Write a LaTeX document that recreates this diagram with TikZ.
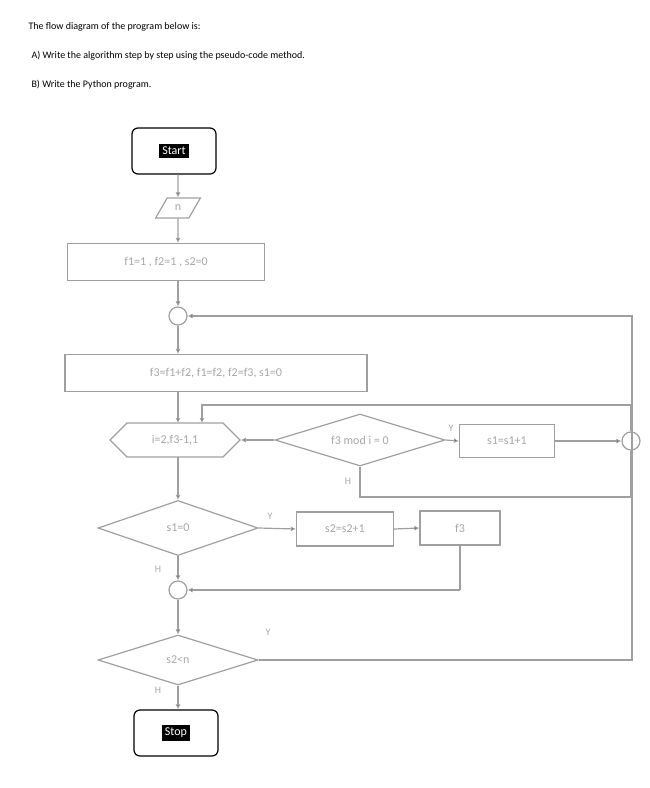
\documentclass[tikz,border=0pt]{standalone}
\usepackage{fontspec}
\setmainfont{Carlito}
\usetikzlibrary{shapes.geometric,shapes.symbols,arrows.meta}
\begin{document}
\begin{tikzpicture}[x=1pt,y=-1pt,
  line/.style={draw=gray!75,line width=1.2pt},
  arr/.style={line,-{Latex[length=5pt,width=5pt,fill=black]}},
  box/.style={line,rectangle,inner sep=0pt,text=gray!70,font=\large},
  term/.style={draw=black,line width=1.2pt,rounded corners=6pt,minimum width=84pt,minimum height=46pt,font=\large},
  dia/.style={line,diamond,aspect=3,inner sep=0pt,text=gray!70,font=\large},
  junc/.style={line,circle,minimum size=18pt,inner sep=0pt},
  lab/.style={text=gray!70,font=\normalsize}]
\useasboundingbox (0,0) rectangle (650,788);
\node[anchor=west,font=\normalsize] (t1) at (25,27) {The flow diagram of the program below is:};
\node[anchor=west,font=\normalsize] (t2) at (28,56) {A) Write the algorithm step by step using the pseudo-code method.};
\node[anchor=west,font=\normalsize] (t3) at (28,85) {B) Write the Python program.};
\node[term] (start) at (174,151) {\colorbox{black}{\textcolor{white}{Start}}};
\node[line,trapezium,trapezium left angle=60,trapezium right angle=120,minimum width=40pt,minimum height=20pt,inner sep=0pt,text=gray!70,font=\large] (in) at (178,208) {n};
\node[box,minimum width=197pt,minimum height=37pt] (init) at (166,262) {f1=1 , f2=1 , s2=0};
\node[junc] (c1) at (178,316) {};
\node[box,minimum width=302pt,minimum height=37pt] (proc) at (216,373) {f3=f1+f2, f1=f2, f2=f3, s1=0};
\node[line,signal,signal to=west and east,minimum width=130pt,minimum height=34pt,inner sep=0pt,text=gray!70,font=\large] (hex) at (175,440) {i=2,f3-1,1};
\node[dia,minimum width=170pt,minimum height=52pt] (mod) at (360,440) {f3 mod i = 0};
\node[box,minimum width=95pt,minimum height=33pt] (s1) at (507,441) {s1=s1+1};
\node[junc] (c2) at (631,441) {};
\node[dia,minimum width=160pt,minimum height=55pt] (d1) at (178,528) {s1=0};
\node[box,minimum width=97pt,minimum height=34pt] (s2) at (345,529) {s2=s2+1};
\node[box,minimum width=80pt,minimum height=34pt] (out) at (460,528) {f3};
\node[junc] (c3) at (178,590) {};
\node[dia,minimum width=160pt,minimum height=50pt] (d2) at (178,660) {s2<n};
\node[term] (stop) at (176,733) {\colorbox{black}{\textcolor{white}{Stop}}};
\coordinate (p1) at (178,391.5);
\coordinate (p2) at (178,423);
\coordinate (p3) at (178,457);
\coordinate (r1) at (632,316);
\coordinate (r2) at (632,660);
\coordinate (l1) at (631,405);
\coordinate (l2) at (202,405);
\coordinate (l3) at (202,423);
\coordinate (h1) at (360,497);
\coordinate (h2) at (631,497);
\coordinate (o1) at (460,590);
\draw[arr] (start.south -| in) -- (in);
\draw[arr] (in) -- (init.north -| in);
\draw[arr] (init.south -| c1) -- (c1);
\draw[arr] (c1) -- (c1 |- proc.north);
\draw[arr] (p1) -- (p2);
\draw[arr] (c2.north) -- (l1) -- (l2) -- (l3);
\draw[arr] (mod.west) -- (hex.east);
\draw[arr] (mod.east) -- (s1.west);
\draw[arr] (s1.east) -- (c2.west);
\draw[line] (mod.south) -- (h1) -- (h2) -- (c2.south);
\draw[arr] (p3) -- (d1.north);
\draw[arr] (d1.east) -- (s2.west);
\draw[arr] (s2.east) -- (out.west);
\draw[line] (out.south) -- (o1);
\draw[arr] (o1) -- (c3.east);
\draw[arr] (d1.south) -- (c3.north);
\draw[arr] (c3.south) -- (d2.north);
\draw[arr] (d2.south) -- (stop.north -| d2.south);
\draw[arr] (d2.east) -- (r2) -- (r1) -- (c1.east);
\node[lab] (y1) at (451,428) {Y};
\node[lab] (n1) at (348,481) {H};
\node[lab] (y2) at (270,516) {Y};
\node[lab] (n2) at (158,569) {H};
\node[lab] (y3) at (268,632) {Y};
\node[lab] (n3) at (158,690) {H};
\end{tikzpicture}
\end{document}
